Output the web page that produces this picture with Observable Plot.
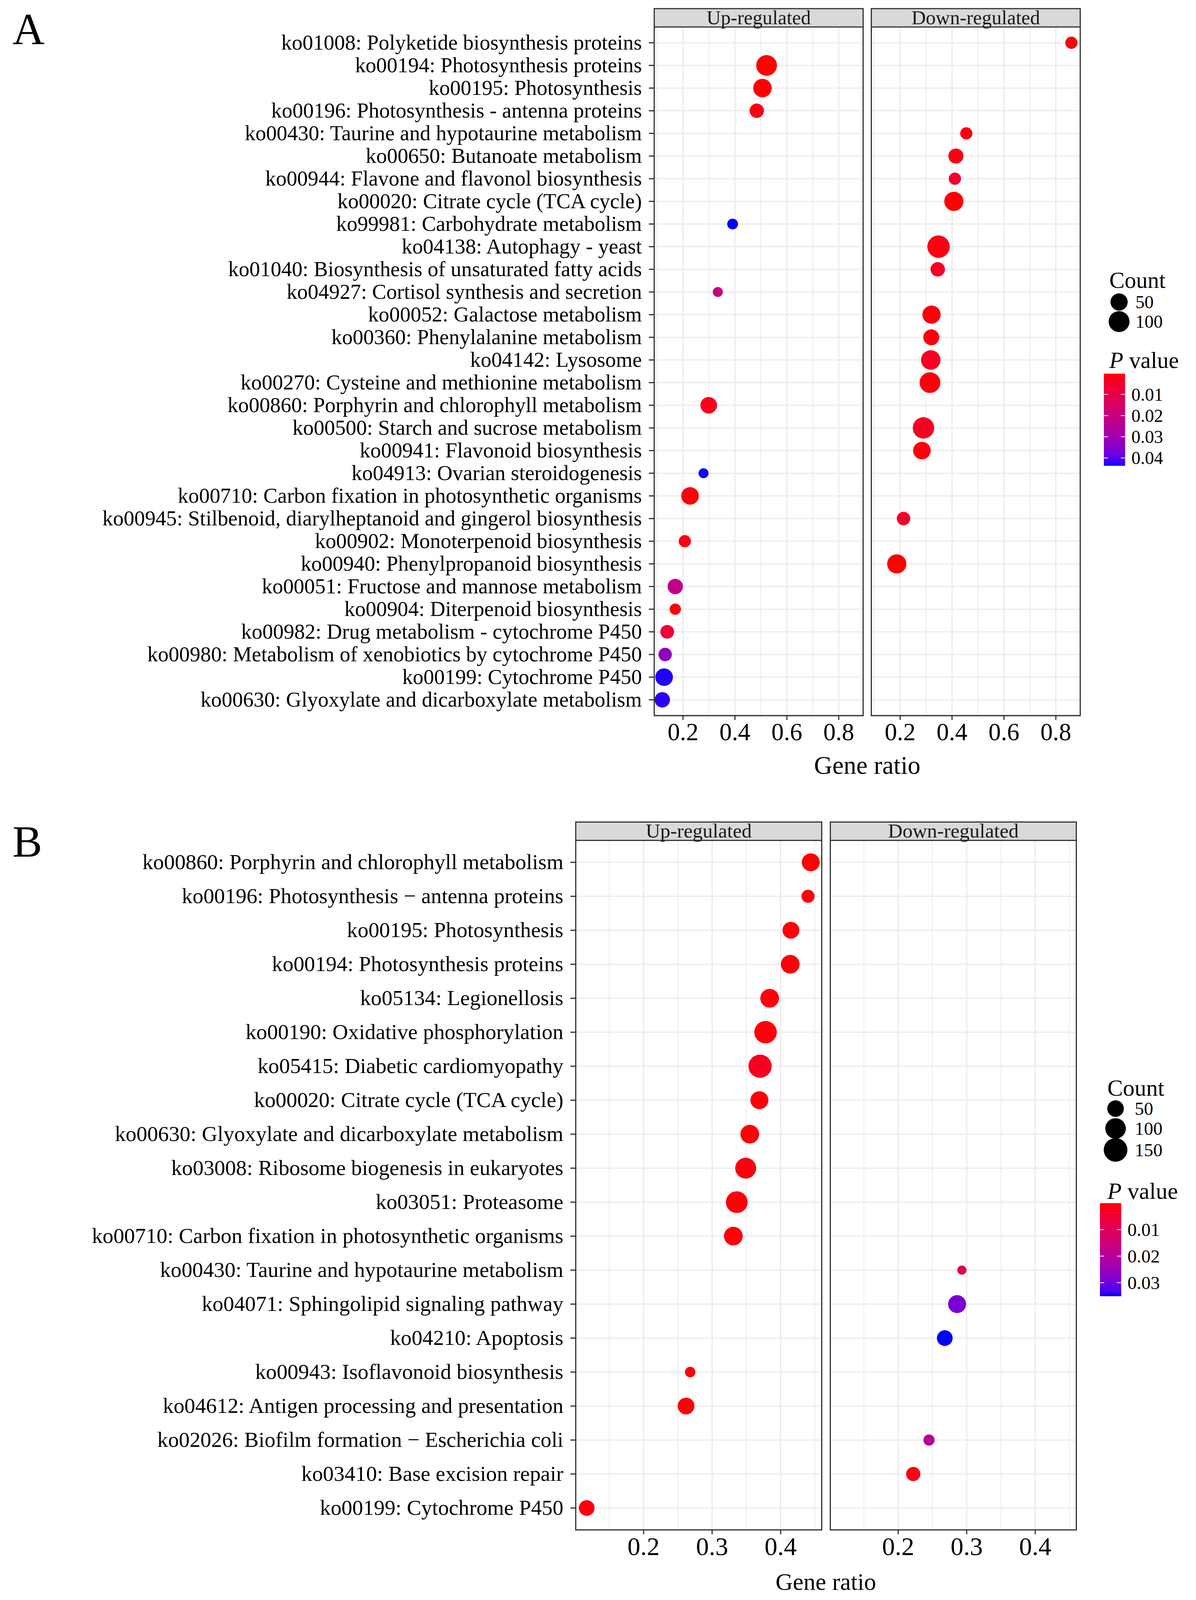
<!DOCTYPE html>
<html><head><meta charset="utf-8">
<script src="https://cdn.jsdelivr.net/npm/d3@7"></script>
<script src="https://cdn.jsdelivr.net/npm/@observablehq/plot@0.6"></script>
<style>
html,body{margin:0;background:#fff;overflow:hidden;}
#fig{position:relative;width:3063px;font-family:"Liberation Serif","Times New Roman",serif;color:#000;background:#fff;}
#fig > .pl{position:absolute;left:0;}
#overlay{position:absolute;left:0;top:0;pointer-events:none;}
</style></head><body><div id="fig"></div>
<script>
// ---------- Data ----------
const groups = ["Up-regulated", "Down-regulated"];

// Panel A (rows top -> bottom)
const termsA = [
  "ko01008: Polyketide biosynthesis proteins",
  "ko00194: Photosynthesis proteins",
  "ko00195: Photosynthesis",
  "ko00196: Photosynthesis - antenna proteins",
  "ko00430: Taurine and hypotaurine metabolism",
  "ko00650: Butanoate metabolism",
  "ko00944: Flavone and flavonol biosynthesis",
  "ko00020: Citrate cycle (TCA cycle)",
  "ko99981: Carbohydrate metabolism",
  "ko04138: Autophagy - yeast",
  "ko01040: Biosynthesis of unsaturated fatty acids",
  "ko04927: Cortisol synthesis and secretion",
  "ko00052: Galactose metabolism",
  "ko00360: Phenylalanine metabolism",
  "ko04142: Lysosome",
  "ko00270: Cysteine and methionine metabolism",
  "ko00860: Porphyrin and chlorophyll metabolism",
  "ko00500: Starch and sucrose metabolism",
  "ko00941: Flavonoid biosynthesis",
  "ko04913: Ovarian steroidogenesis",
  "ko00710: Carbon fixation in photosynthetic organisms",
  "ko00945: Stilbenoid, diarylheptanoid and gingerol biosynthesis",
  "ko00902: Monoterpenoid biosynthesis",
  "ko00940: Phenylpropanoid biosynthesis",
  "ko00051: Fructose and mannose metabolism",
  "ko00904: Diterpenoid biosynthesis",
  "ko00982: Drug metabolism - cytochrome P450",
  "ko00980: Metabolism of xenobiotics by cytochrome P450",
  "ko00199: Cytochrome P450",
  "ko00630: Glyoxylate and dicarboxylate metabolism"
];
const groupA = ["D","U","U","U","D","D","D","D","U","D","D","U","D","D","D","D","U","D","D","U","U","D","U","D","U","U","U","U","U","U"];
const ratioA = [0.860,0.522,0.506,0.484,0.455,0.415,0.411,0.407,0.391,0.348,0.345,0.334,0.321,0.320,0.318,0.315,0.299,0.290,0.284,0.279,0.227,0.213,0.207,0.187,0.170,0.170,0.139,0.131,0.127,0.120];
const countA = [10,98,66,24,10,29,10,75,4,125,24,2,62,37,79,98,44,108,55,2,55,17,10,75,32,6,19,17,55,32];
const pA = [0.0010,0.0002,0.0003,0.0015,0.0015,0.0015,0.0045,0.0005,0.0437,0.0015,0.0040,0.0200,0.0010,0.0010,0.0035,0.0010,0.0025,0.0030,0.0010,0.0435,0.0010,0.0050,0.0015,0.0002,0.0220,0.0010,0.0070,0.0330,0.0432,0.0428];
const xTicksA = [0.2, 0.4, 0.6, 0.8];
const xMinorA = [0.1, 0.3, 0.5, 0.7];
const countBreaksA = [50, 100];
const pBreaksA = [0.01, 0.02, 0.03, 0.04];

// Panel B (rows top -> bottom)
const termsB = [
  "ko00860: Porphyrin and chlorophyll metabolism",
  "ko00196: Photosynthesis \u2212 antenna proteins",
  "ko00195: Photosynthesis",
  "ko00194: Photosynthesis proteins",
  "ko05134: Legionellosis",
  "ko00190: Oxidative phosphorylation",
  "ko05415: Diabetic cardiomyopathy",
  "ko00020: Citrate cycle (TCA cycle)",
  "ko00630: Glyoxylate and dicarboxylate metabolism",
  "ko03008: Ribosome biogenesis in eukaryotes",
  "ko03051: Proteasome",
  "ko00710: Carbon fixation in photosynthetic organisms",
  "ko00430: Taurine and hypotaurine metabolism",
  "ko04071: Sphingolipid signaling pathway",
  "ko04210: Apoptosis",
  "ko00943: Isoflavonoid biosynthesis",
  "ko04612: Antigen processing and presentation",
  "ko02026: Biofilm formation \u2212 Escherichia coli",
  "ko03410: Base excision repair",
  "ko00199: Cytochrome P450"
];
const groupB = ["U","U","U","U","U","U","U","U","U","U","U","U","D","D","D","U","U","D","D","U"];
const ratioB = [0.444,0.440,0.415,0.414,0.384,0.378,0.370,0.369,0.355,0.349,0.336,0.331,0.293,0.286,0.268,0.268,0.262,0.245,0.222,0.117];
const countB = [66,21,53,75,75,130,143,66,75,106,118,75,3,66,42,7,53,10,29,42];
const pB = [0.00005,0.0005,0.0005,0.0005,0.0005,0.0005,0.0025,0.0005,0.0005,0.0010,0.0005,0.0005,0.0085,0.0290,0.0351,0.0005,0.0005,0.0190,0.0015,0.0005];
const xTicksB = [0.2, 0.3, 0.4];
const xMinorB = [0.15, 0.25, 0.35, 0.45];
const countBreaksB = [50, 100, 150];
const pBreaksB = [0.01, 0.02, 0.03];

// ---------- Build tables ----------
const gName = g => g === "U" ? groups[0] : groups[1];
const dataA = termsA.map((t, i) => ({term: t, group: gName(groupA[i]), ratio: ratioA[i], count: countA[i], p: pA[i]}));
const dataB = termsB.map((t, i) => ({term: t, group: gName(groupB[i]), ratio: ratioB[i], count: countB[i], p: pB[i]}));

// The figure is designed for a 3063x5314 page; if the window is shorter, the
// vertical layout is compressed to fill it (K) and text/marks shrink a little (F).
const K = Math.min(1, (window.innerHeight || 5314) / 5314);
const F = Math.sqrt(K);
const FONT = "'Liberation Serif', 'Times New Roman', serif";
const fig = document.getElementById("fig");
fig.style.height = (5314 * K) + "px";

function panel(o) {
  return Plot.plot({
    width: 3063, height: o.height * K,
    marginLeft: o.marginLeft, marginRight: o.marginRight, marginTop: o.marginTop * K, marginBottom: o.marginBottom * K,
    style: {fontFamily: FONT, color: "black", background: "transparent", overflow: "visible"},
    fx: {domain: groups, paddingInner: o.pad, paddingOuter: 0, axis: null, label: null},
    x: {domain: o.xDomain, label: null},
    y: {type: "point", domain: o.terms, padding: 0.6, label: null},
    r: {type: "sqrt", domain: [0, 100], range: o.rRange.map(v => v * F)},
    color: {type: "linear", range: ["#FF0000", "#0000FF"], interpolate: "lab"},
    marks: [
      Plot.frame({fill: "#D9D9D9", stroke: "#333333", strokeWidth: 3, insetTop: -61 * K}),
      Plot.frame({fill: "white"}),
      Plot.gridX(o.minor, {stroke: "#EBEBEB", strokeOpacity: 1, strokeWidth: 2}),
      Plot.gridX(o.ticks, {stroke: "#EBEBEB", strokeOpacity: 1, strokeWidth: 3.2}),
      Plot.gridY(o.terms, {stroke: "#EBEBEB", strokeOpacity: 1, strokeWidth: 3.2}),
      Plot.dot(o.data, {x: "ratio", y: "term", r: "count", fill: "p", fx: "group"}),
      Plot.frame({stroke: "#333333", strokeWidth: 3}),
      Plot.text(groups, {fx: d => d, text: d => d, frameAnchor: "top", dy: -30.5 * K, lineAnchor: "middle", fontSize: o.fsStrip * K * 1.06, fill: "#1A1A1A"}),
      Plot.axisY(o.terms, {tickSize: 15 * F, tickPadding: 21 * F, fontSize: o.fsY * F, stroke: "#333333", strokeWidth: 3, fill: "black", label: null}),
      Plot.axisX(o.ticks, {tickSize: 15 * K, tickPadding: 8 * K, fontSize: o.fsX * F * 0.95, stroke: "#333333", strokeWidth: 3, fill: "black", label: null, tickFormat: d => d.toFixed(1)})
    ]
  });
}

const topA = 0, topB = 2650;
const plotA = panel({
  data: dataA, terms: termsA, height: 2526, marginTop: 89, marginBottom: 150,
  marginLeft: 1675, marginRight: 296, pad: 0.0377,
  xDomain: [0.089, 0.894], ticks: xTicksA, minor: xMinorA, rRange: [12, 30.5],
  fsStrip: 62, fsY: 62, fsX: 76
});
const plotB = panel({
  data: dataB, terms: termsB, height: 2530, marginTop: 140, marginBottom: 100,
  marginLeft: 1473.5, marginRight: 306, pad: 0.0337,
  xDomain: [0.101, 0.460], ticks: xTicksB, minor: xMinorB, rRange: [10, 30],
  fsStrip: 63, fsY: 63, fsX: 79
});
plotA.classList.add("pl"); plotA.style.top = (topA * K) + "px";
plotB.classList.add("pl"); plotB.style.top = (topB * K) + "px";
fig.appendChild(plotA);
fig.appendChild(plotB);

// ---------- Overlay: panel letters, axis titles, legends ----------
const svg = d3.select(fig).append("svg").attr("id", "overlay")
  .attr("width", 3063).attr("height", 5314 * K)
  .style("font-family", FONT);

svg.append("text").attr("x", 32).attr("y", 146 * K).attr("font-size", 130 * F).text("A");
svg.append("text").attr("x", 32).attr("y", 2845 * K).attr("font-size", 130 * F).text("B");
svg.append("text").attr("x", 2221).attr("y", 2570 * K).attr("font-size", 74 * F).attr("text-anchor", "middle").text("Gene ratio");
svg.append("text").attr("x", 2115).attr("y", 5280 * K).attr("font-size", 70 * F).attr("text-anchor", "middle").text("Gene ratio");

function getScale(plot, name) {
  const s = plot.scale(name);
  if (s && typeof s.apply === "function") return s;
  return Plot.scale({[name]: s});
}

function legend(plot, data, o, id) {
  const rS = getScale(plot, "r");
  const cS = getScale(plot, "color");
  const g = svg.append("g");
  g.append("text").attr("x", o.titleX).attr("y", o.countTitleY * K).attr("font-size", o.fsTitle * F).text("Count");
  o.countBreaks.forEach((c, i) => {
    g.append("circle").attr("cx", o.keyX).attr("cy", o.keyYs[i] * K).attr("r", rS.apply(c)).attr("fill", "black");
    g.append("text").attr("x", o.labelX).attr("y", o.keyYs[i] * K).attr("dy", "0.34em").attr("font-size", o.fsLab * F).text(c);
  });
  const t = g.append("text").attr("x", o.titleX).attr("y", o.pTitleY * K).attr("font-size", o.fsTitle * F);
  t.append("tspan").attr("font-style", "italic").text("P");
  t.append("tspan").text(" value");
  const [p0, p1] = d3.extent(data, d => d.p);
  const grad = svg.append("defs").append("linearGradient").attr("id", id)
    .attr("x1", 0).attr("y1", 0).attr("x2", 0).attr("y2", 1);
  d3.range(0, 1.0001, 0.05).forEach(f => {
    grad.append("stop").attr("offset", f).attr("stop-color", cS.apply(p0 + f * (p1 - p0)));
  });
  g.append("rect").attr("x", o.barX).attr("y", o.barY0 * K).attr("width", o.barW * F).attr("height", (o.barY1 - o.barY0) * K)
    .attr("fill", `url(#${id})`);
  const yb = d3.scaleLinear().domain([p0, p1]).range([o.barY0 * K, o.barY1 * K]);
  const bw = o.barW * F;
  o.pBreaks.forEach(p => {
    const y = yb(p);
    g.append("line").attr("x1", o.barX).attr("x2", o.barX + bw / 5).attr("y1", y).attr("y2", y).attr("stroke", "white").attr("stroke-width", 2);
    g.append("line").attr("x1", o.barX + bw).attr("x2", o.barX + bw * 4 / 5).attr("y1", y).attr("y2", y).attr("stroke", "white").attr("stroke-width", 2);
    g.append("text").attr("x", o.barX + bw + 16).attr("y", y).attr("dy", "0.34em").attr("font-size", o.fsLab * F).text(p.toFixed(2));
  });
}

legend(plotA, dataA, {
  titleX: 2841, countTitleY: 956, fsTitle: 67, fsLab: 53,
  countBreaks: countBreaksA, keyX: 2866, keyYs: [1003, 1068], labelX: 2908,
  pTitleY: 1222, barX: 2827, barW: 62, barY0: 1241, barY1: 1547, pBreaks: pBreaksA
}, "gradA");
legend(plotB, dataB, {
  titleX: 2836, countTitleY: 3639, fsTitle: 68, fsLab: 54,
  countBreaks: countBreaksB, keyX: 2857, keyYs: [3682, 3748, 3819], labelX: 2906,
  pTitleY: 3981, barX: 2817, barW: 62, barY0: 3996, barY1: 4305, pBreaks: pBreaksB
}, "gradB");
</script></body></html>
